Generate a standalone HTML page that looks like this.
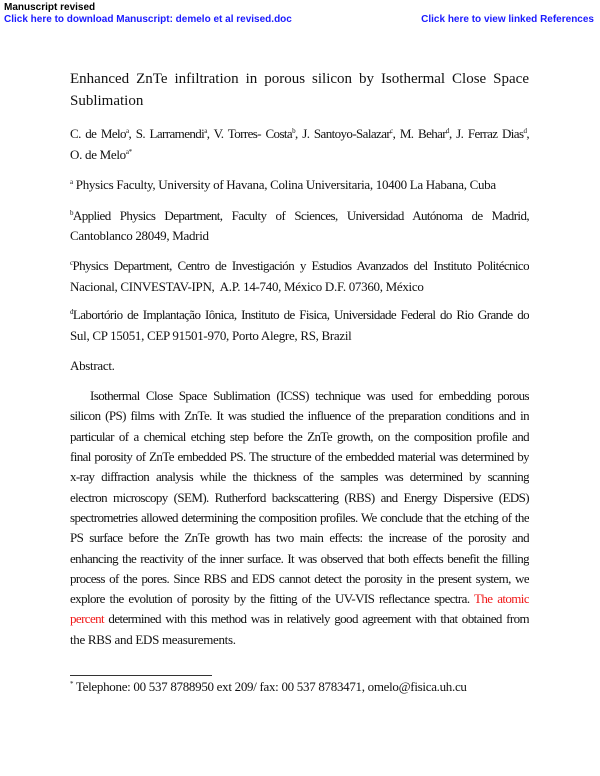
<!DOCTYPE html>
<html><head><meta charset="utf-8"><style>
body{margin:0;width:600px;height:776px;background:#fff;position:relative;overflow:hidden;font-family:"Liberation Serif",serif;color:#111}
.l{position:absolute;left:70px;width:459px;height:16px;line-height:16px;font-size:13px;white-space:nowrap;letter-spacing:-0.3px}
.j{text-align:justify;text-align-last:justify;white-space:normal;overflow:hidden;letter-spacing:-0.6px}
.t{font-size:15px;height:20px;line-height:20px;letter-spacing:0}
sup{font-size:7px;vertical-align:5px;line-height:0}
.h{position:absolute;font-family:"Liberation Sans",sans-serif;font-weight:bold;font-size:10px;line-height:12px;white-space:nowrap}
.b{color:#1a1aff}
.r{color:#f01818}
</style></head><body>
<div class="h" style="left:4px;top:2px;color:#000">Manuscript revised</div>
<div class="h b" style="left:4px;top:14px">Click here to download Manuscript: demelo et al revised.doc</div>
<div class="h b" style="right:6px;top:14px">Click here to view linked References</div>

<div class="l t j" style="top:69px;letter-spacing:0">Enhanced ZnTe infiltration in porous silicon by Isothermal Close Space</div>
<div class="l t" style="top:91px">Sublimation</div>

<div class="l j" style="top:126px">C. de Melo<sup>a</sup>, S. Larramendi<sup>a</sup>, V. Torres- Costa<sup>b</sup>, J. Santoyo-Salazar<sup>c</sup>, M. Behar<sup>d</sup>, J. Ferraz Dias<sup>d</sup>,</div>
<div class="l" style="top:147px">O. de Melo<sup>a*</sup></div>
<div class="l" style="top:177px"><sup>a</sup> Physics Faculty, University of Havana, Colina Universitaria, 10400 La Habana, Cuba</div>
<div class="l j" style="top:208px"><sup>b</sup>Applied Physics Department, Faculty of Sciences, Universidad Autónoma de Madrid,</div>
<div class="l" style="top:228px">Cantoblanco 28049, Madrid</div>
<div class="l j" style="top:258px"><sup>c</sup>Physics Department, Centro de Investigación y Estudios Avanzados del Instituto Politécnico</div>
<div class="l" style="top:279px">Nacional, CINVESTAV-IPN,&nbsp; A.P. 14-740, México D.F. 07360, México</div>
<div class="l j" style="top:307px"><sup>d</sup>Labortório de Implantação Iônica, Instituto de Fisica, Universidade Federal do Rio Grande do</div>
<div class="l" style="top:328px">Sul, CP 15051, CEP 91501-970, Porto Alegre, RS, Brazil</div>
<div class="l" style="top:358px">Abstract.</div>

<div class="l j" style="top:388px;left:90px;width:439px">Isothermal Close Space Sublimation (ICSS) technique was used for embedding porous</div>
<div class="l j" style="top:408px">silicon (PS) films with ZnTe. It was studied the influence of the preparation conditions and in</div>
<div class="l j" style="top:429px">particular of a chemical etching step before the ZnTe growth, on the composition profile and</div>
<div class="l j" style="top:449px">final porosity of ZnTe embedded PS. The structure of the embedded material was determined by</div>
<div class="l j" style="top:469px">x-ray diffraction analysis while the thickness of the samples was determined by scanning</div>
<div class="l j" style="top:490px">electron microscopy (SEM). Rutherford backscattering (RBS) and Energy Dispersive (EDS)</div>
<div class="l j" style="top:510px">spectrometries allowed determining the composition profiles. We conclude that the etching of the</div>
<div class="l j" style="top:530px">PS surface before the ZnTe growth has two main effects: the increase of the porosity and</div>
<div class="l j" style="top:551px">enhancing the reactivity of the inner surface. It was observed that both effects benefit the filling</div>
<div class="l j" style="top:571px">process of the pores. Since RBS and EDS cannot detect the porosity in the present system, we</div>
<div class="l j" style="top:591px">explore the evolution of porosity by the fitting of the UV-VIS reflectance spectra. <span class="r">The atomic</span></div>
<div class="l j" style="top:611px"><span class="r">percent</span> determined with this method was in relatively good agreement with that obtained from</div>
<div class="l" style="top:632px">the RBS and EDS measurements.</div>

<div style="position:absolute;left:70px;top:675px;width:142px;height:1px;background:#333"></div>
<div class="l" style="top:679px"><sup>*</sup> Telephone: 00 537 8788950 ext 209/ fax: 00 537 8783471, omelo@fisica.uh.cu</div>
</body></html>
